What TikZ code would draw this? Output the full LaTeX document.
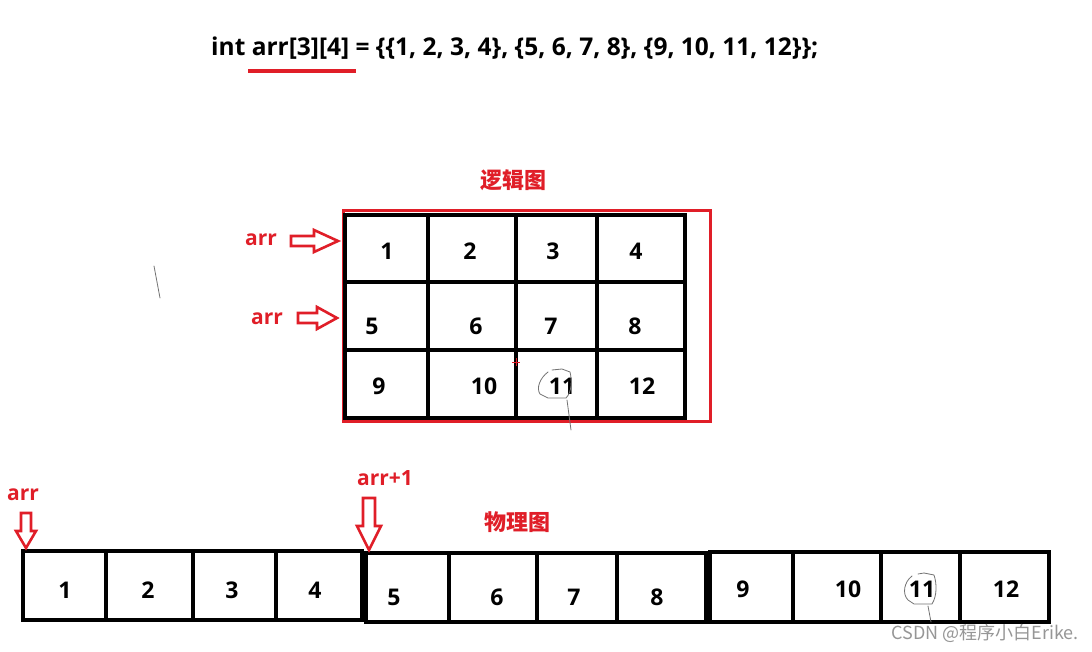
\documentclass[tikz,border=0pt]{standalone}
\usepackage{fontspec}
\setmainfont{Open Sans}
\newfontfamily\cjk{Noto Sans CJK SC}
\definecolor{rd}{RGB}{224,30,40}
\definecolor{wm}{RGB}{150,150,150}
\tikzset{
  cellline/.style={line width=3.5pt, line join=miter},
  redframe/.style={draw=rd, line width=3pt},
  num/.style={font=\fontsize{23}{25}\selectfont\bfseries, inner sep=0pt},
  redlbl/.style={font=\fontsize{21}{24}\selectfont\bfseries, text=rd, inner sep=0pt},
  cjklbl/.style={font=\cjk\fontsize{22}{24}\selectfont\bfseries, text=rd, inner sep=0pt},
  hollow/.style={draw=rd, line width=2.6pt, line join=miter},
  scribble/.style={draw=black!55, line width=0.8pt, line cap=round, line join=round},
}
\begin{document}
\begin{tikzpicture}[x=1pt,y=-1pt]
\useasboundingbox[fill=white] (0,0) rectangle (1092,652);

% code line
\node[anchor=west, inner sep=0pt, font=\fontsize{24.5}{26}\selectfont\bfseries] (code) at (211,48) {int arr[3][4] = \{\{1, 2, 3, 4\}, \{5, 6, 7, 8\}, \{9, 10, 11, 12\}\};};
\draw[rd, line width=4pt] (248,71) -- (356,71);

% logical diagram
\node[cjklbl] (ltitle) at (513,180) {逻辑图};
\draw[redframe] (343,211) rectangle (710,421);
\draw[cellline] (345,215) rectangle (685,418);
\foreach \x in {428,516,597} \draw[cellline] (\x,215) -- (\x,418);
\foreach \y in {282,350} \draw[cellline] (345,\y) -- (685,\y);

\node[num] (l1) at (387,251) {1};
\node[num] (l2) at (470,251) {2};
\node[num] (l3) at (553,251) {3};
\node[num] (l4) at (636,251) {4};
\node[num] (l5) at (372,326) {5};
\node[num] (l6) at (476,326) {6};
\node[num] (l7) at (551,326) {7};
\node[num] (l8) at (635,326) {8};
\node[num] (l9) at (379,386) {9};
\node[num] (l10) at (484,386) {10};
\node[num] (l11) at (562,386) {11};
\node[num] (l12) at (642,386) {12};

\node[redlbl] (a1) at (261,240) {arr};
\node[redlbl] (a2) at (267,319) {arr};
\draw[hollow] (291,236) -- (314,236) -- (314,230) -- (338,241) -- (314,252) -- (314,246) -- (291,246) -- cycle;
\draw[hollow] (298,313) -- (317,313) -- (317,307) -- (337,318) -- (317,329) -- (317,323) -- (298,323) -- cycle;

% scribbles
\draw[scribble] (548,372) .. controls (540,378) and (536,388) .. (540,394) -- (548,398) -- (566,398) .. controls (572,392) and (572,380) .. (570,372) -- (562,369) -- (552,370);
\draw[scribble] (567,400) -- (571,430);
\draw[scribble] (154,266) -- (160,298);
\draw[rd, line width=0.7pt] (512,362) -- (520,362) (516,358) -- (516,366);

% physical diagram
\node[cjklbl] (ptitle) at (517,522) {物理图};
\foreach \a/\b in {23/106,106/193,193/276,276/362} \draw[cellline] (\a,551) rectangle (\b,620);
\foreach \a/\b in {366/449,449/537,537/617,617/706} \draw[cellline] (\a,553) rectangle (\b,622);
\foreach \a/\b in {710/793,793/881,881/960,960/1049} \draw[cellline] (\a,552) rectangle (\b,622);

\node[num] (p1) at (65,590) {1};
\node[num] (p2) at (148,590) {2};
\node[num] (p3) at (232,590) {3};
\node[num] (p4) at (315,590) {4};
\node[num] (p5) at (394,597) {5};
\node[num] (p6) at (497,597) {6};
\node[num] (p7) at (574,597) {7};
\node[num] (p8) at (657,597) {8};
\node[num] (p9) at (743,589) {9};
\node[num] (p10) at (848,589) {10};
\node[num] (p11) at (922,589) {11};
\node[num] (p12) at (1006,589) {12};

\node[redlbl] (b1) at (23,495) {arr};
\node[redlbl] (b2) at (385,478) {arr+1};
\draw[hollow] (21,513) -- (21,531) -- (16,531) -- (26,548) -- (36,531) -- (31,531) -- (31,513) -- cycle;
\draw[hollow] (363,498) -- (363,526) -- (357,526) -- (369,550) -- (381,526) -- (375,526) -- (375,498) -- cycle;

\draw[scribble] (912,576) .. controls (904,582) and (902,594) .. (908,600) -- (914,604) -- (932,604) .. controls (937,596) and (937,584) .. (934,575) -- (924,573) -- (918,574);
\draw[scribble] (928,606) -- (931,622);

% watermark
\node[anchor=east, inner sep=0pt, text=wm, font=\cjk\fontsize{18}{20}\selectfont] (wmk) at (1079,633) {CSDN @程序小白Erike.};
\end{tikzpicture}
\end{document}
